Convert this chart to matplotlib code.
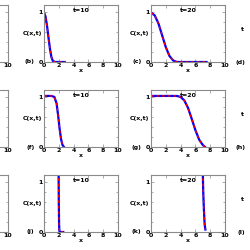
import matplotlib
matplotlib.use("Agg")
from matplotlib import pyplot as plt
from matplotlib.ticker import MultipleLocator

# curvas: (x, C) para t=10 y t=20
x_b = [0, 0.2, 0.4, 0.6, 0.8, 1.0, 1.2, 1.5, 2.0, 2.8]
c_b = [1.0, 0.92, 0.74, 0.5, 0.27, 0.1, 0.02, 0.0, 0.0, 0.0]
x_c = [0, 0.5, 1.0, 1.5, 2.0, 2.5, 3.0, 3.5, 5.0, 7.5]
c_c = [1.0, 0.94, 0.78, 0.54, 0.3, 0.12, 0.03, 0.0, 0.0, 0.0]
x_f = [0, 1.0, 1.4, 1.7, 1.9, 2.1, 2.3, 2.5, 2.7]
c_f = [1.03, 1.03, 1.01, 0.88, 0.65, 0.38, 0.16, 0.04, 0.0]
x_g = [0, 3.5, 4.0, 4.5, 5.0, 5.5, 6.0, 6.5, 7.0, 7.3]
c_g = [1.03, 1.03, 1.01, 0.94, 0.79, 0.57, 0.34, 0.15, 0.04, 0.0]
x_j = [1.97, 2.0, 2.04, 2.08, 2.15, 2.6]
c_j = [1.2, 0.6, 0.15, 0.02, 0.0, 0.0]
x_k = [7.0, 7.06, 7.15, 7.25, 7.35]
c_k = [1.2, 0.8, 0.45, 0.15, 0.05]

curvas = [[(x_b, c_b), (x_c, c_c)],
          [(x_f, c_f), (x_g, c_g)],
          [(x_j, c_j), (x_k, c_k)]]
etiquetas = [["(b)", "(c)", "(d)"], ["(f)", "(g)", "(h)"], ["(j)", "(k)", "(l)"]]
tiempos = ["t=10", "t=20"]
xticks = [0, 2, 4, 6, 8, 10]

fs = 4.5
gris = "#8a8a8a"
fig = plt.figure(figsize=(2.5, 2.5), dpi=100)

def ejes(izq, abajo, cortado=False):
    ax = fig.add_axes([izq, abajo, 0.296, 0.228])
    ax.set_xlim(0, 10)
    ax.set_ylim(0, 1.15)
    ax.set_xticks(xticks)
    ax.set_yticks([0, 1])
    if cortado:
        # solo se ve el borde derecho del panel de la izquierda
        ax.set_xticklabels(["", "", "", "", "", "10"])
        ax.set_yticklabels(["", ""])
    ax.yaxis.set_minor_locator(MultipleLocator(0.2))
    ax.tick_params(which="both", direction="in", top=True, right=True,
                   labelsize=fs, pad=1, color=gris, width=0.5)
    ax.tick_params(which="major", length=2)
    ax.tick_params(which="minor", length=1.2)
    for s in ax.spines.values():
        s.set_color(gris)
        s.set_linewidth(0.8)
    for lab in ax.get_xticklabels() + ax.get_yticklabels():
        lab.set_fontweight("bold")
    return ax

bajos = [0.752, 0.412, 0.072]
for i in range(3):
    b = bajos[i]
    ejes(-0.264, b, cortado=True)
    for j in range(2):
        izq = [0.176, 0.604][j]
        ax = ejes(izq, b)
        xs, cs = curvas[i][j]
        ax.plot(xs, cs, color="blue", lw=1.6)
        ax.plot(xs, cs, color="red", lw=1.0, ls=(0, (2, 2)))
        ax.text(0.5, 0.91, tiempos[j], transform=ax.transAxes, fontsize=fs,
                fontweight="bold", ha="center", va="center")
        ax.set_xlabel("x", fontsize=fs, fontweight="bold", labelpad=0)
        ax.text(-0.16, 0.5, "C(x,t)", transform=ax.transAxes, fontsize=fs,
                fontweight="bold", ha="center", va="center")
        ax.text(-0.13, 0.0, etiquetas[i][j], transform=ax.transAxes, fontsize=fs,
                fontweight="bold", ha="right", va="center")
    fig.text(0.968, b + 0.13, "t", fontsize=fs, fontweight="bold", ha="center", va="center")
    fig.text(0.98, b - 0.002, etiquetas[i][2], fontsize=fs, fontweight="bold",
             ha="right", va="center")

fig.savefig("out.png", dpi=100)
